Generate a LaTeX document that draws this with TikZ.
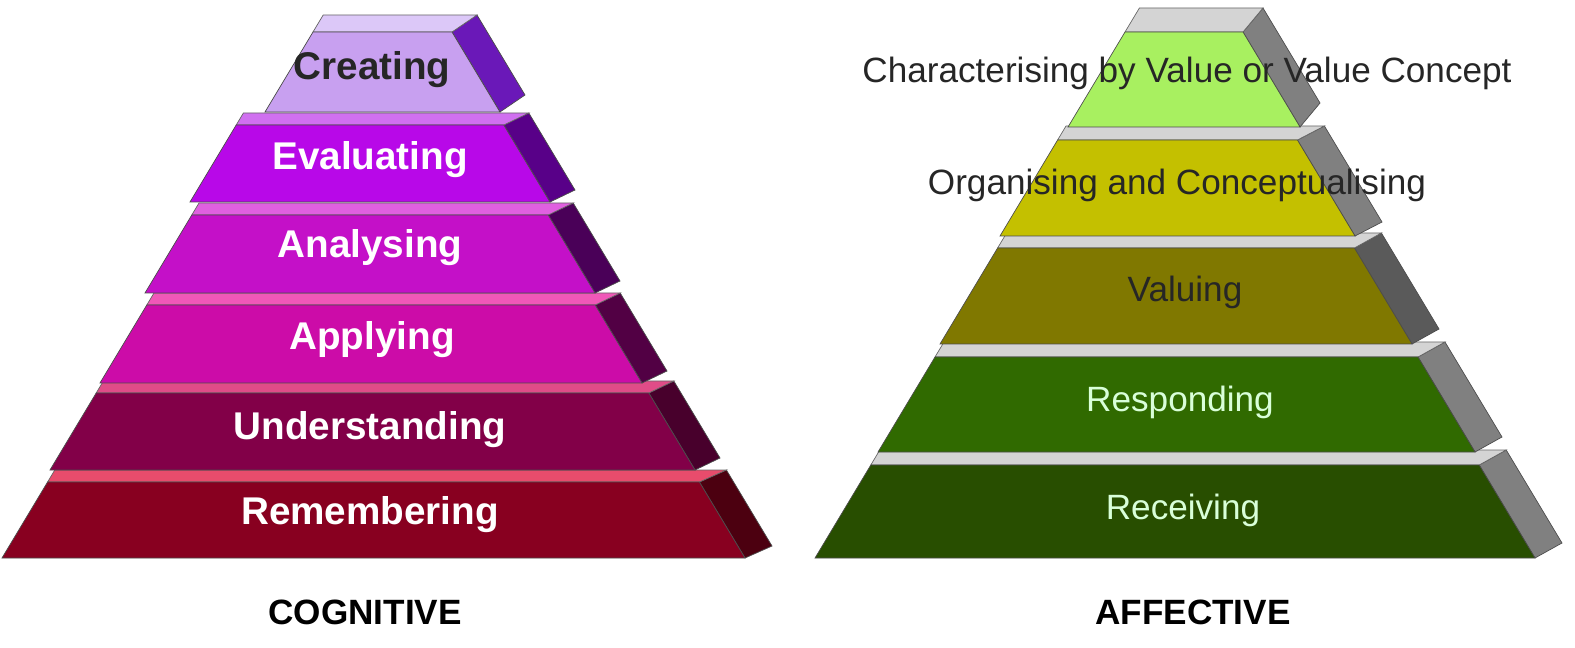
\documentclass[tikz,border=0pt]{standalone}
\usepackage{fontspec}
\setmainfont{Liberation Sans}
\definecolor{crF}{HTML}{C8A0F0}\definecolor{crL}{HTML}{DCC8F8}\definecolor{crS}{HTML}{6A18B8}
\definecolor{evF}{HTML}{B808E8}\definecolor{evL}{HTML}{D070F0}\definecolor{evS}{HTML}{580088}
\definecolor{anF}{HTML}{C410C8}\definecolor{anL}{HTML}{E060E0}\definecolor{anS}{HTML}{4A0058}
\definecolor{apF}{HTML}{CC0CA8}\definecolor{apL}{HTML}{F058B8}\definecolor{apS}{HTML}{520044}
\definecolor{unF}{HTML}{820048}\definecolor{unL}{HTML}{E04C88}\definecolor{unS}{HTML}{48002C}
\definecolor{reF}{HTML}{880020}\definecolor{reL}{HTML}{E84C6C}\definecolor{reS}{HTML}{4C0010}
\definecolor{chF}{HTML}{A8F060}\definecolor{orF}{HTML}{C4C000}\definecolor{vaF}{HTML}{807800}
\definecolor{rsF}{HTML}{306A00}\definecolor{rcF}{HTML}{284E00}
\definecolor{gL}{HTML}{D4D4D4}\definecolor{gS}{HTML}{808080}
\begin{document}
\begin{tikzpicture}[x=0.02cm,y=-0.02cm,
  cog/.style={text=white,font=\fontsize{22}{22}\selectfont\bfseries},
  aff/.style={font=\fontsize{20}{20}\selectfont},
  captext/.style={font=\fontsize{20}{20}\selectfont\bfseries}]
\useasboundingbox (0,0) rectangle (1575,648);
% #1 yt, #2 yb, #3 xl, #4 xr, #5 dx, #6 dy, #7 front, #8 ledge, #9 side
\newcommand\pyrlayer[9]{%
  \pgfmathsetmacro\hh{0.6*(#2-#1)}%
  \pgfmathsetmacro\L{#3+\hh}\pgfmathsetmacro\R{#4-\hh}%
  \pgfmathsetmacro\Ly{-0.6*(#6)}%
  \fill[#9,draw=black!70,line width=0.4pt] (\R,#1) -- (#4,#2) -- (#4+#5,#2+#6) -- (\R+#5,#1+#6) -- cycle;
  \fill[#8,draw=black!60,line width=0.4pt] (\L,#1) -- (\R,#1) -- (\R+#5,#1+#6) -- (\L+\Ly,#1+#6) -- cycle;
  \fill[#7,draw=black!70,line width=0.4pt] (\L,#1) -- (\R,#1) -- (#4,#2) -- (#3,#2) -- cycle;
}
% cognitive
\pyrlayer{482}{558}{2}{745}{27}{-12}{reF}{reL}{reS}
\pyrlayer{393}{470}{50}{695}{25}{-12}{unF}{unL}{unS}
\pyrlayer{305}{383}{100}{642}{25}{-12}{apF}{apL}{apS}
\pyrlayer{215}{293}{145}{595}{25}{-12}{anF}{anL}{anS}
\pyrlayer{125}{202}{190}{550}{25}{-12}{evF}{evL}{evS}
\pyrlayer{32}{112}{265}{500}{25}{-17}{crF}{crL}{crS}
\node[cog,text=black!85] (c1) at (372,70) {Creating};
\node[cog] (c2) at (370,160) {Evaluating};
\node[cog] (c3) at (370,248) {Analysing};
\node[cog] (c4) at (372,340) {Applying};
\node[cog] (c5) at (370,430) {Understanding};
\node[cog] (c6) at (370,515) {Remembering};
% affective
\pyrlayer{465}{558}{815}{1535}{27}{-15}{rcF}{gL}{gS}
\pyrlayer{357}{452}{878}{1475}{27}{-15}{rsF}{gL}{gS}
\pyrlayer{248}{344}{940}{1412}{27}{-15}{vaF}{gL}{gS!70!black}
\pyrlayer{140}{236}{1000}{1355}{27}{-14}{orF}{gL}{gS}
\pyrlayer{32}{127}{1068}{1300}{20}{-24}{chF}{gL}{gS}
\node[aff,text=black!85] (a1) at (1187,73) {Characterising by Value or Value Concept};
\node[aff,text=black!85] (a2) at (1177,185) {Organising and Conceptualising};
\node[aff,text=black!85] (a3) at (1185,292) {Valuing};
\node[aff,text=green!15!white] (a4) at (1180,402) {Responding};
\node[aff,text=green!15!white] (a5) at (1183,510) {Receiving};
\node[captext] (t1) at (365,612) {COGNITIVE};
\node[captext] (t2) at (1193,612) {AFFECTIVE};
\end{tikzpicture}
\end{document}
